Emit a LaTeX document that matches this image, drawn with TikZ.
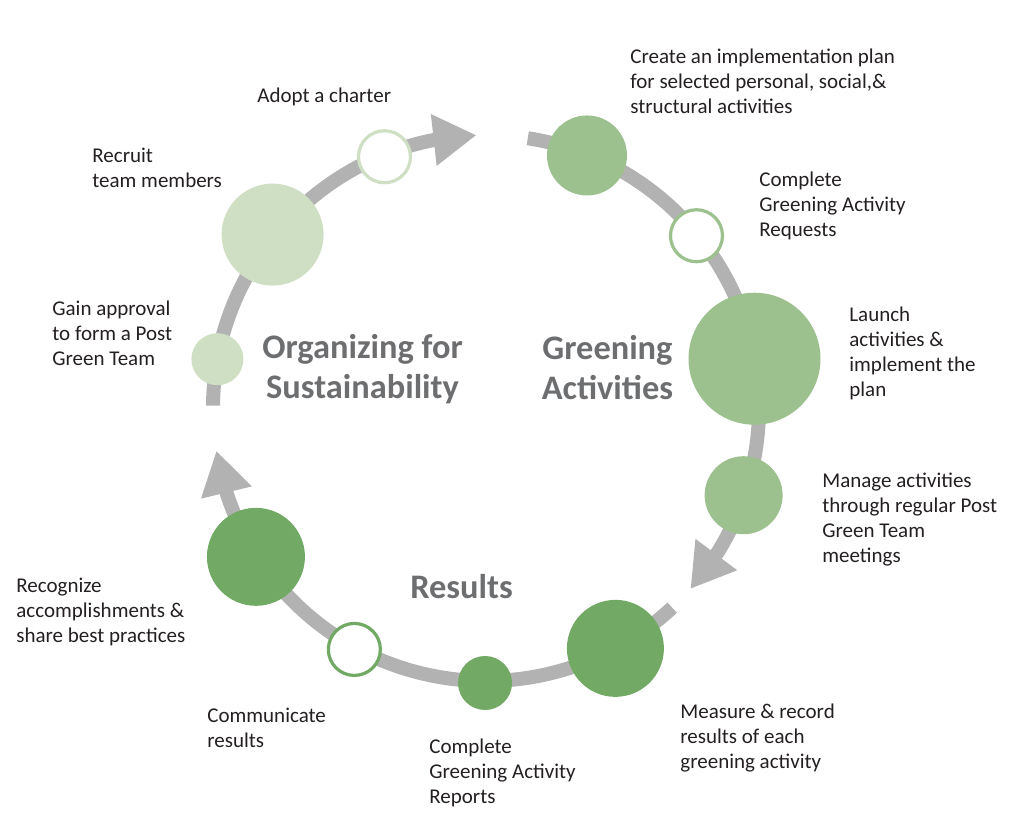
\documentclass[tikz,border=0pt]{standalone}
\usepackage{fontspec}
\setmainfont{Carlito}
\usetikzlibrary{arrows.meta,bending}
\definecolor{palesage}{rgb}{0.81,0.875,0.77}
\definecolor{sage}{rgb}{0.616,0.753,0.561}
\definecolor{fern}{rgb}{0.447,0.663,0.396}
\definecolor{ashgray}{rgb}{0.694,0.698,0.694}
\definecolor{slategray}{rgb}{0.427,0.431,0.439}
\definecolor{inkblack}{rgb}{0.14,0.12,0.13}
\tikzset{
  milestone/.style={
    circle,
    inner sep=0pt,
    draw=none
  },
  openmilestone/.style={
    circle,
    inner sep=0pt,
    fill=white,
    line width=1.6pt,
    minimum size=26pt
  },
  track/.style={
    line width=7pt,
    draw=ashgray,
    -{Triangle[length=21.5pt,width=24.5pt]}
  },
  note/.style={
    anchor=north west,
    align=left,
    inner sep=0pt,
    text=inkblack,
    font=\fontsize{10.5}{12.5}\selectfont
  },
  phase/.style={
    align=center,
    inner sep=0pt,
    text=slategray,
    font=\fontsize{17.2}{20}\selectfont\bfseries
  }
}

\begin{document}
\begin{tikzpicture}[x=0.5pt,y=0.5pt]
\useasboundingbox (-486,-412) rectangle (538,408);
% pista
\draw[track] (179.5:273) arc[start angle=179.5,end angle=92,radius=273];
\draw[track] (81.2:273) arc[start angle=81.2,end angle=-41.5,radius=273];
\draw[track] (-47:273) arc[start angle=-47,end angle=-171,radius=273];
% organizing
\node[milestone,fill=palesage,minimum size=26pt] (approval) at (169.7:273) {};
\node[milestone,fill=palesage,minimum size=51pt] (recruit) at (140.9:275) {};
\node[openmilestone,draw=palesage] (charter) at (112:271) {};
% greening
\node[milestone,fill=sage,minimum size=40pt] (plan) at (68.2:272) {};
\node[openmilestone,draw=sage] (requests) at (39.3:272) {};
\node[milestone,fill=sage,minimum size=66pt] (launch) at (10.4:273) {};
\node[milestone,fill=sage,minimum size=39pt] (manage) at (-18.7:272) {};
% results
\node[milestone,fill=fern,minimum size=48.5pt] (measure) at (-61.7:273) {};
\node[milestone,fill=fern,minimum size=27pt] (reports) at (-90.2:275) {};
\node[openmilestone,draw=fern] (communicate) at (-118.6:275) {};
\node[milestone,fill=fern,minimum size=49pt] (recognize) at (-147.1:274) {};
% titulos
\node[phase] (organizing) at (-123.5,39) {Organizing for\\Sustainability};
\node[phase] (greening) at (121.5,40) {Greening\\Activities};
\node[phase,anchor=base] (results) at (-24.5,-190) {Results};
% rotulos
\node[note] (charterlabel) at (-229,320) {Adopt a charter};
\node[note] (recruitlabel) at (-394,260) {Recruit\\team members};
\node[note] (approvallabel) at (-434,107) {Gain approval\\to form a Post\\Green Team};
\node[note] (planlabel) at (144,359) {Create an implementation plan\\for selected personal, social,\&\\structural activities};
\node[note] (requestslabel) at (273,236) {Complete\\Greening Activity\\Requests};
\node[note] (launchlabel) at (363,101) {Launch\\activities \&\\implement the\\plan};
\node[note] (managelabel) at (336,-65) {Manage activities\\through regular Post\\Green Team\\meetings};
\node[note] (measurelabel) at (194,-296) {Measure \& record\\results of each\\greening activity};
\node[note] (reportslabel) at (-57,-331) {Complete\\Greening Activity\\Reports};
\node[note] (communicatelabel) at (-279,-300) {Communicate\\results};
\node[note] (recognizelabel) at (-470,-170) {Recognize\\accomplishments \&\\share best practices};
\end{tikzpicture}
\end{document}
